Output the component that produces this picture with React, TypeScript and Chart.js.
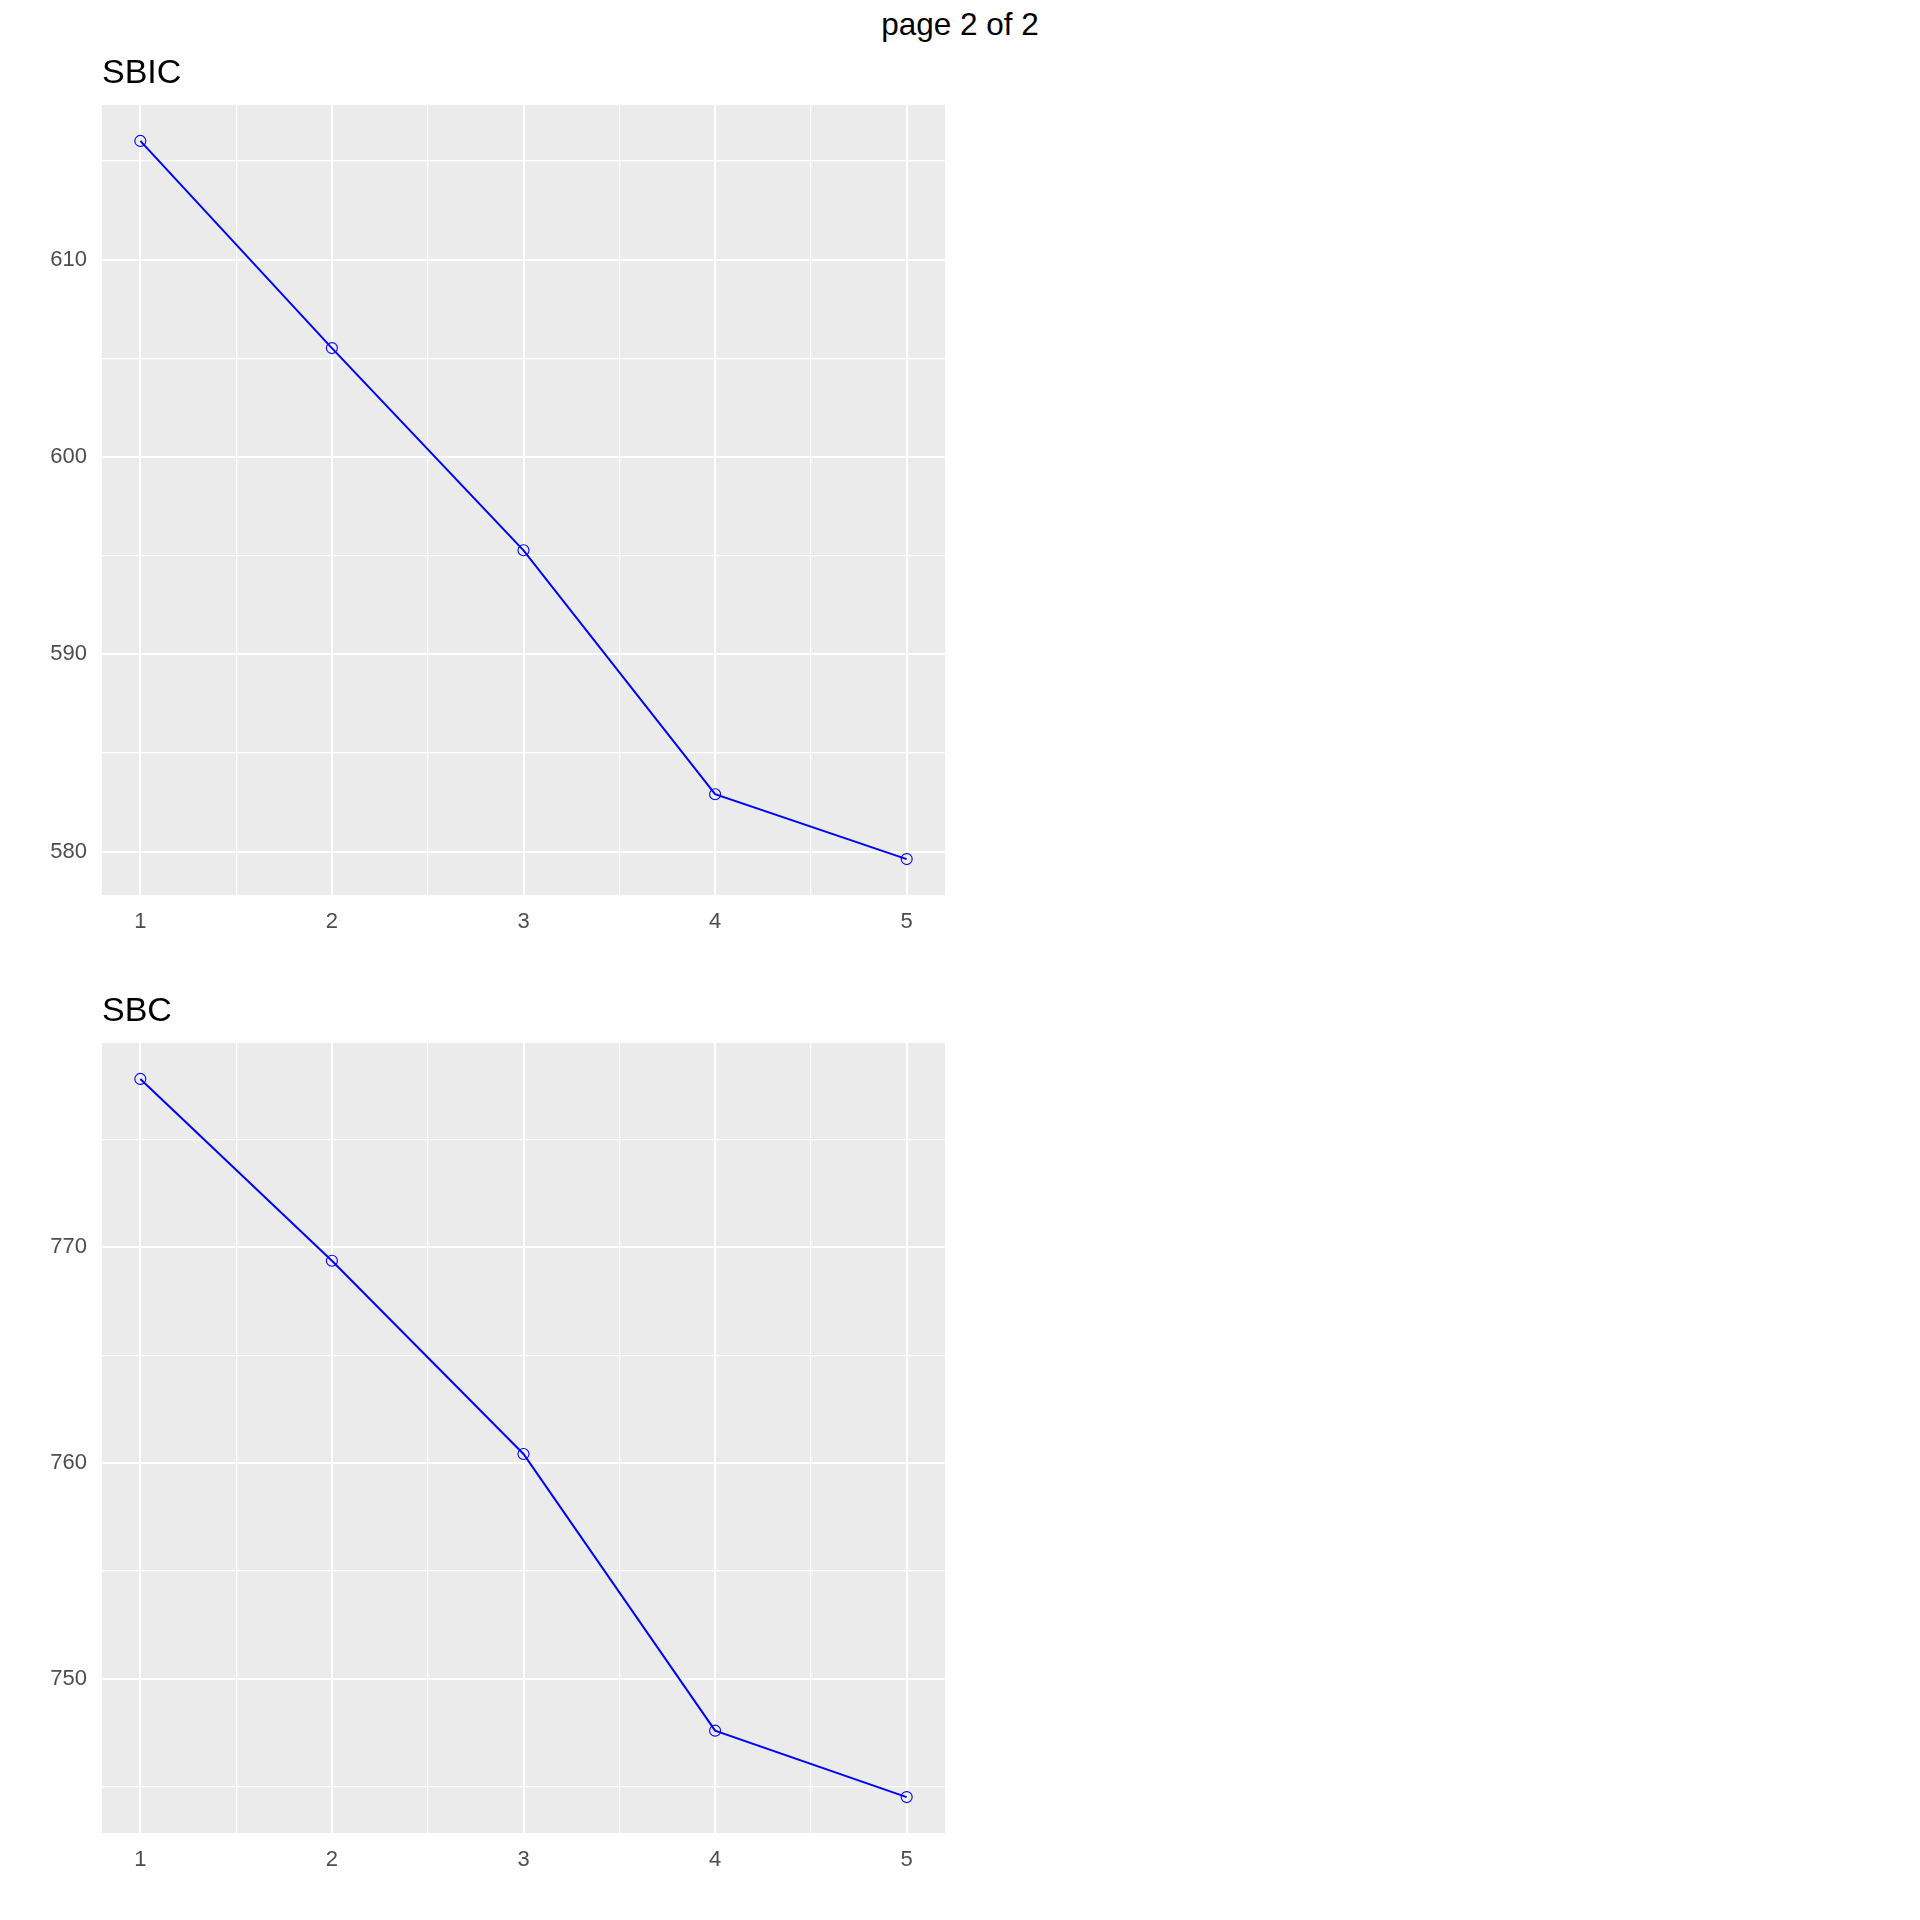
import { useEffect, useRef } from 'react';
import { Chart, registerables } from 'chart.js';

Chart.register(...registerables);

// model size on the x axis
const steps = [1, 2, 3, 4, 5];
// criterion values
const sbicValues = [616.02, 605.52, 595.27, 582.91, 579.62];
const sbcValues = [777.81, 769.38, 760.42, 747.59, 744.51];

const FONT = '"Liberation Sans", Arial, sans-serif';
const TICK_COLOR = '#4D4D4D';
const PANEL_BG = '#EBEBEB';

// ggplot-like panel background
const panelBackground = {
  id: 'panelBackground',
  beforeDraw(chart: Chart) {
    const { ctx, chartArea } = chart;
    if (!chartArea) return;
    ctx.save();
    ctx.fillStyle = PANEL_BG;
    ctx.fillRect(chartArea.left, chartArea.top, chartArea.right - chartArea.left, chartArea.bottom - chartArea.top);
    ctx.restore();
  },
};

// 5% expansion like ggplot's continuous scale
function expand(values: number[]) {
  const lo = Math.min(...values);
  const hi = Math.max(...values);
  const pad = (hi - lo) * 0.05;
  return { min: lo - pad, max: hi + pad };
}

interface PanelProps {
  title: string;
  values: number[];
  top: number;
}

function Panel({ title, values, top }: PanelProps) {
  const chartRef = useRef<HTMLCanvasElement>(null);
  const chartInstance = useRef<Chart | null>(null);

  useEffect(() => {
    if (!chartRef.current) return;
    if (chartInstance.current) chartInstance.current.destroy();

    const ctx = chartRef.current.getContext('2d');
    if (!ctx) return;

    const xr = expand(steps);
    const yr = expand(values);

    chartInstance.current = new Chart(ctx, {
      type: 'line',
      data: {
        datasets: [
          {
            label: title,
            data: steps.map((s, i) => ({ x: s, y: values[i] })),
            borderColor: '#0000FF',
            borderWidth: 2,
            pointRadius: 5.5,
            pointBorderWidth: 1.1,
            pointBorderColor: '#0000FF',
            pointBackgroundColor: 'rgba(0,0,0,0)',
            tension: 0,
            fill: false,
          },
        ],
      },
      options: {
        animation: false,
        responsive: true,
        maintainAspectRatio: false,
        events: [],
        layout: { padding: { top: 0, right: 15, bottom: 0, left: 0 } },
        plugins: {
          legend: { display: false },
          tooltip: { enabled: false },
          title: {
            display: true,
            text: title,
            align: 'start',
            fullSize: false,
            color: '#000000',
            font: { family: FONT, size: 34, weight: 'normal' },
            padding: { top: 13.1, bottom: 11.1 },
          },
        },
        scales: {
          x: {
            type: 'linear',
            min: xr.min,
            max: xr.max,
            border: { display: false },
            grid: {
              color: '#FFFFFF',
              drawTicks: false,
              lineWidth: (c: any) => (Number.isInteger(c.tick?.value) ? 2 : 1.2),
            },
            ticks: {
              stepSize: 0.5,
              includeBounds: false,
              autoSkip: false,
              maxRotation: 0,
              padding: 13.3,
              color: TICK_COLOR,
              font: { family: FONT, size: 22 },
              callback: (v: any) => (Number.isInteger(v) ? String(v) : ''),
            },
            afterFit: (scale: any) => {
              scale.height = 50;
            },
          },
          y: {
            type: 'linear',
            min: yr.min,
            max: yr.max,
            border: { display: false },
            grid: {
              color: '#FFFFFF',
              drawTicks: false,
              lineWidth: (c: any) => (Math.round(c.tick?.value) % 10 === 0 ? 2 : 1.2),
            },
            ticks: {
              stepSize: 5,
              includeBounds: false,
              autoSkip: false,
              padding: 15,
              color: TICK_COLOR,
              font: { family: FONT, size: 22 },
              callback: (v: any) => (Math.round(v) % 10 === 0 ? String(Math.round(v)) : ''),
            },
            afterFit: (scale: any) => {
              scale.width = 102;
            },
          },
        },
      },
      plugins: [panelBackground],
    });

    return () => {
      if (chartInstance.current) {
        chartInstance.current.destroy();
        chartInstance.current = null;
      }
    };
  }, [title, values]);

  return (
    <div style={{ position: 'absolute', left: 0, top, width: 960, height: 905 }}>
      <canvas ref={chartRef} />
    </div>
  );
}

export default function App() {
  return (
    <div style={{ position: 'absolute', left: 0, top: 0, width: 1920, height: 1920, background: '#FFFFFF' }}>
      <div
        style={{
          position: 'absolute',
          left: 0,
          top: 8,
          width: 1920,
          textAlign: 'center',
          fontFamily: FONT,
          fontSize: 31.5,
          lineHeight: '32px',
          color: '#000000',
        }}
      >
        page 2 of 2
      </div>
      <Panel title="SBIC" values={sbicValues} top={40} />
      <Panel title="SBC" values={sbcValues} top={978} />
    </div>
  );
}
